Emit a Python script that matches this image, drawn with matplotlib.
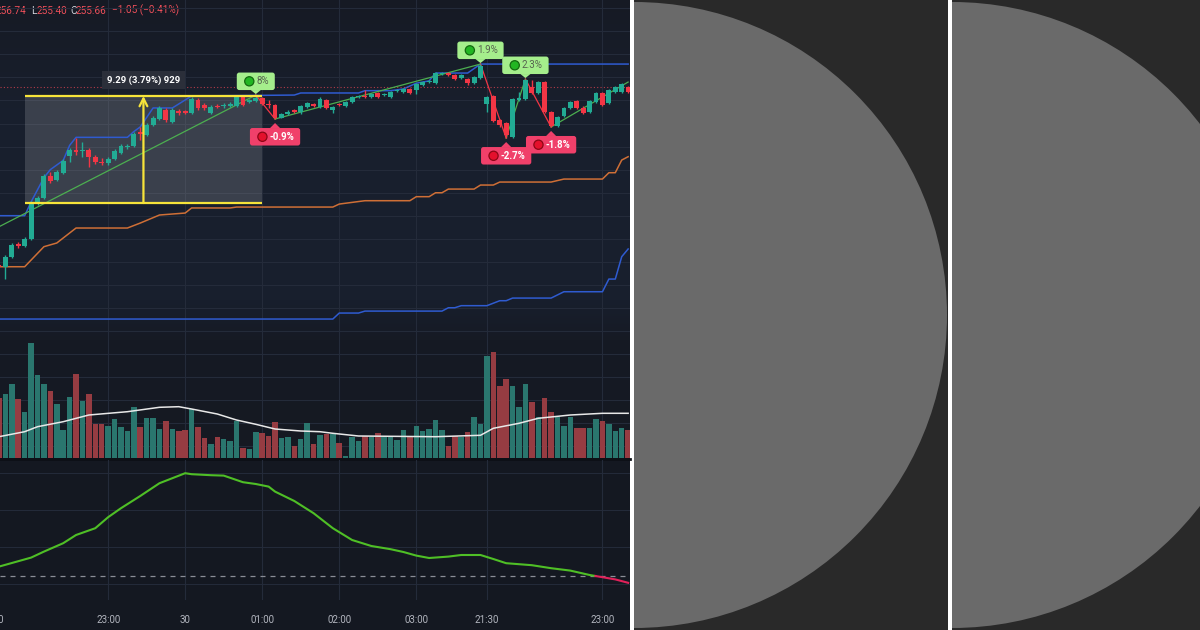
import numpy as np
import matplotlib
matplotlib.use("Agg")
import matplotlib.pyplot as plt
import matplotlib.patches as mpatches
import matplotlib.transforms as mtransforms

plt.rcParams["font.family"] = ["Roboto", "DejaVu Sans"]

# 5-minute bars, index 0..98
opens = [239.72, 239.54, 240.41, 241.54, 241.37, 241.97, 245.10, 245.53, 247.44, 247.10,
         247.70, 249.18, 249.70, 249.61, 249.70, 249.09, 248.66, 248.57, 248.92, 249.44,
         249.96, 250.05, 251.26, 251.00, 251.87, 252.39, 253.17, 252.13, 253.09, 253.09,
         252.91, 254.04, 253.61, 252.91, 253.52, 253.52, 253.52, 253.52, 254.30, 253.87,
         253.95, 254.21, 253.69, 253.61, 252.48, 252.82, 253.17, 253.00, 253.43, 253.69,
         253.43, 254.04, 253.17, 253.69, 253.52, 253.87, 254.30, 254.39, 254.30, 254.65,
         254.47, 254.30, 254.82, 254.73, 254.99, 254.91, 255.34, 255.60, 255.52, 256.30,
         256.38, 256.21, 255.95, 255.86, 255.52, 255.95, 253.69, 254.39, 252.30, 252.04,
         250.83, 254.04, 254.13, 255.17, 254.65, 255.60, 253.00, 251.78, 252.65, 253.35,
         253.95, 253.35, 253.00, 253.87, 254.65, 253.78, 254.73, 254.73, 255.17]
highs = [239.98, 240.59, 241.63, 241.71, 242.15, 245.27, 245.71, 247.62, 247.79, 247.96,
         248.92, 249.87, 250.74, 250.39, 249.87, 249.27, 249.01, 249.09, 249.79, 250.22,
         250.22, 251.26, 251.70, 252.04, 252.65, 253.52, 253.35, 253.35, 253.26, 253.17,
         254.30, 254.21, 253.78, 253.61, 253.69, 253.78, 253.87, 254.39, 254.39, 254.13,
         254.47, 254.30, 254.04, 253.69, 252.91, 253.17, 253.26, 253.61, 253.87, 253.78,
         254.30, 254.13, 253.52, 253.78, 253.95, 254.39, 254.47, 254.91, 254.65, 254.73,
         254.65, 254.82, 254.99, 255.08, 255.08, 255.52, 255.69, 255.78, 256.47, 256.47,
         256.47, 256.30, 256.30, 255.95, 256.12, 257.16, 254.39, 254.47, 252.39, 252.13,
         254.21, 254.73, 255.86, 255.78, 255.69, 255.69, 253.09, 252.65, 253.43, 253.95,
         254.04, 253.52, 254.04, 254.73, 254.73, 254.99, 255.26, 255.52, 255.26]
lows = [239.37, 238.50, 240.33, 241.19, 241.28, 241.89, 244.93, 245.45, 246.84, 247.01,
        247.62, 248.66, 249.27, 249.09, 248.22, 248.48, 248.40, 248.40, 248.83, 249.35,
        249.79, 249.96, 250.57, 250.92, 251.78, 252.30, 252.13, 252.04, 252.74, 252.82,
        252.82, 253.17, 253.17, 252.82, 253.35, 253.35, 253.43, 253.43, 253.52, 253.78,
        253.87, 253.61, 253.35, 252.39, 252.48, 252.74, 252.91, 252.82, 253.35, 253.43,
        253.35, 253.26, 252.91, 253.52, 253.43, 253.78, 254.21, 254.21, 254.21, 254.21,
        254.39, 254.21, 254.73, 254.65, 254.56, 254.56, 255.26, 255.52, 255.43, 256.21,
        256.12, 255.78, 255.86, 255.34, 255.43, 255.86, 253.00, 252.13, 251.70, 250.74,
        250.74, 253.95, 254.04, 254.56, 254.56, 252.91, 251.70, 251.70, 252.56, 253.26,
        253.26, 252.82, 252.91, 253.78, 253.52, 253.69, 254.65, 254.65, 254.65]
closes = [239.54, 240.41, 241.45, 241.37, 241.97, 245.10, 245.53, 247.44, 247.01, 247.79,
          248.75, 249.70, 249.53, 249.70, 249.09, 248.66, 248.57, 248.92, 249.61, 250.05,
          250.05, 251.09, 251.09, 251.87, 252.48, 253.35, 252.30, 253.17, 252.91, 252.91,
          254.13, 253.35, 253.35, 253.43, 253.43, 253.61, 253.69, 254.30, 253.61, 254.04,
          254.21, 253.69, 253.61, 252.48, 252.82, 253.00, 253.00, 253.52, 253.78, 253.52,
          254.13, 253.35, 253.43, 253.61, 253.87, 254.30, 254.39, 254.30, 254.56, 254.30,
          254.56, 254.73, 254.91, 254.99, 254.65, 255.43, 255.60, 255.69, 256.38, 256.38,
          256.21, 255.86, 256.21, 255.52, 256.04, 256.99, 254.30, 252.22, 251.87, 251.00,
          254.13, 254.21, 255.78, 254.65, 255.60, 253.00, 251.78, 252.56, 253.35, 253.87,
          253.35, 252.91, 253.95, 254.65, 253.61, 254.91, 255.17, 255.43, 254.73]
volumes = [597, 637, 740, 587, 460, 1153, 827, 740, 667, 537,
           280, 613, 837, 573, 637, 337, 337, 320, 390, 307,
           273, 507, 313, 403, 397, 290, 370, 290, 270, 280,
           493, 313, 203, 140, 213, 190, 170, 370, 97, 87,
           260, 253, 223, 360, 203, 207, 123, 190, 347, 140,
           227, 240, 240, 147, 20, 207, 170, 220, 207, 253,
           207, 207, 180, 280, 207, 320, 273, 293, 380, 280,
           120, 220, 207, 260, 407, 337, 1020, 1060, 720, 787,
           720, 513, 737, 557, 407, 603, 460, 413, 320, 413,
           300, 300, 300, 390, 370, 343, 270, 300, 280]

vol_ma_idx = [0, 4, 6, 10, 14, 20, 25, 28, 30, 34, 37, 40, 43, 47, 50, 52, 56, 68, 75, 77, 81, 84, 89, 94, 98]
vol_ma = [213, 263, 313, 363, 430, 463, 507, 513, 490, 440, 380, 337, 290, 270, 263, 247, 220, 213, 227, 297,
          347, 397, 430, 447, 447]

chan_hi_idx = [0, 4, 5, 7, 8, 10, 11, 12, 20, 21, 22, 24, 27, 30, 46, 47, 56, 57, 61, 63, 65, 67, 68, 73, 75, 98]
chan_hi = [244.0, 244.0, 245.2, 247.3, 248.0, 248.8, 250.1, 250.8, 250.8, 251.3, 251.7, 253.35, 253.35,
           254.39, 254.47, 254.65, 254.65, 254.85, 254.85, 255.0, 255.5, 255.7, 256.38, 256.38, 257.16, 257.16]
band_mid_idx = [0, 4, 7, 9, 12, 20, 22, 25, 29, 30, 36, 37, 52, 53, 57, 64, 65, 67, 68, 69, 70, 74, 75, 77,
                78, 86, 88, 94, 95, 96, 97, 98]
band_mid = [239.57, 239.57, 241.31, 241.63, 242.93, 242.93, 243.36, 244.06, 244.23, 244.67, 244.67, 244.75,
            244.75, 245.01, 245.30, 245.30, 245.65, 245.65, 245.99, 245.99, 246.31, 246.31, 246.66, 246.66,
            246.92, 246.92, 247.18, 247.18, 247.73, 247.73, 248.83, 249.12]
band_lo_idx = [0, 52, 53, 56, 57, 69, 70, 71, 72, 76, 78, 79, 80, 86, 88, 94, 95, 96, 97, 98]
band_lo = [235.03, 235.03, 235.55, 235.55, 235.72, 235.72, 236.01, 236.01, 236.19, 236.19, 236.62, 236.62,
           236.85, 236.85, 237.40, 237.40, 238.50, 238.50, 240.44, 241.11]

zz_idx = [0, 40, 43, 75, 79, 82, 86, 98]
zz_price = [243.04, 254.47, 252.39, 257.16, 250.74, 255.86, 251.70, 255.60]

piv_idx = [40, 43, 75, 79, 82, 86]
piv_label = ["8%", "-0.9%", "1.9%", "-2.7%", "2.3%", "-1.8%"]
piv_high = [True, False, True, False, True, False]

osc_idx = [0, 2, 5, 7, 10, 12, 15, 17, 19, 22, 25, 27, 29, 30, 33, 35, 38, 40, 42, 43,
           46, 49, 52, 55, 58, 61, 63, 65, 67, 70, 72, 75, 77, 79, 83, 86, 89, 92, 96, 98]
osc_val = [0.47, 0.65, 0.92, 1.22, 1.64, 2.05, 2.39, 2.94, 3.39, 4.0, 4.64, 4.89, 5.14, 5.09, 5.04, 5.02,
           4.69, 4.6, 4.47, 4.22, 3.75, 3.14, 2.39, 1.8, 1.5, 1.34, 1.2, 1.02, 0.9, 0.97, 1.05, 1.05,
           0.85, 0.64, 0.54, 0.39, 0.27, 0.05, -0.17, -0.34]

meas_k0, meas_k1 = 4, 41
meas_lo, meas_hi = 245.10, 254.39
meas_text = "9.29 (3.79%) 929"
last_price = 255.19

time_ticks = [-1.2, 17, 29, 41, 53, 65, 76, 94]
time_labels = ["22:50", "23:00", "30", "01:00", "02:00", "03:00", "21:30", "23:00"]

header = [("256.74", "r"), ("L", "w"), ("255.40", "r"), ("C", "w"), ("255.66", "r"), ("\u22121.05 (\u22120.41%)", "r")]

# colours
UP, DN = "#22ab94", "#f23645"
VUP, VDN = "#2a766e", "#963c42"
GRID = "#242b3a"
YEL = "#f7e43a"

W, H = 1200, 630
fig = plt.figure(figsize=(12, 6.3), dpi=100, facecolor="white")


def frac(x0, y0, x1, y1):
    return [x0 / W, 1 - y1 / H, (x1 - x0) / W, (y1 - y0) / H]


# background: chart backdrop and the two grey panels
ax_bg = fig.add_axes([0, 0, 1, 1], zorder=0)
stops_y = [0, 120, 300, 340, 458]
stops_c = [(22, 26, 36), (25, 32, 46), (24, 31, 45), (22, 26, 36), (21, 25, 34)]
yy = np.arange(458)
grad = np.stack([np.interp(yy, stops_y, [c[i] for c in stops_c]) for i in range(3)], axis=-1) / 255
ax_bg.imshow(grad[:, None, :], extent=(0, 630, 458, 0), aspect="auto", interpolation="bilinear")
ax_bg.add_patch(mpatches.Rectangle((0, 458), 630, 172, fc="#141821", ec="none"))
ax_bg.plot([0, 630], [459, 459], color="#0d1016", lw=2)
for x0, w in [(634, 314), (952, 248)]:
    panel = mpatches.Rectangle((x0, 0), w, H, fc="#292929", ec="none")
    ax_bg.add_patch(panel)
    circ = mpatches.Circle((x0, 315), 313, fc="#6a6a6a", ec="none")
    ax_bg.add_patch(circ)
    circ.set_clip_path(panel)
ax_bg.set_xlim(0, W)
ax_bg.set_ylim(H, 0)
ax_bg.axis("off")

hx = {0: 26, 1: 31, 2: 36.5, 3: 70, 4: 76, 5: 112}
for i, (s, c) in enumerate(header):
    ax_bg.text(hx[i], 10.5, s, ha="right" if i == 0 else "left", va="center", fontsize=7.2,
               color="#ee4f5a" if c == "r" else "#d1d4dc")

x_lo, x_hi = 0.156, 98.29
ax_v = fig.add_axes(frac(0, 0, 630, 458), zorder=1)
ax_p = fig.add_axes(frac(0, 0, 630, 458), zorder=2)
ax_o = fig.add_axes(frac(0, 460, 630, 600), zorder=2)
for a in (ax_v, ax_p, ax_o):
    a.set_facecolor("none")
    a.set_xlim(x_lo, x_hi)
    for s in a.spines.values():
        s.set_visible(False)
    a.set_xticks([])
    a.set_yticks([])
ax_p.set_ylim(222.97, 262.72)
ax_v.set_ylim(0, 4580)
ax_o.set_ylim(-1.2, 5.8)

# grid
gy = mtransforms.blended_transform_factory(ax_v.transAxes, ax_p.transData)
for p in np.arange(224, 263, 2):
    ax_v.plot([0, 1], [p, p], transform=gy, color=GRID, lw=0.8, zorder=0)
for k in time_ticks[1:]:
    ax_v.axvline(k, color=GRID, lw=0.8, zorder=0)
    ax_o.axvline(k, color=GRID, lw=0.8, zorder=0)
for v in [-0.4, 1.45, 3.3, 5.15]:
    ax_o.axhline(v, color=GRID, lw=0.7, zorder=0)

# volume
idx = np.arange(len(closes))
o, h, l, c = map(np.array, (opens, highs, lows, closes))
up = c >= o
ax_v.bar(idx, volumes, width=0.86, color=np.where(up, VUP, VDN), zorder=2)
ax_v.plot(vol_ma_idx, vol_ma, color="#e8e8e8", lw=1.1, zorder=3)

# measure tool (behind candles)
ax_p.fill_between([meas_k0, meas_k1], meas_lo, meas_hi, color="white", alpha=0.15, lw=0, zorder=1)

# bands
ax_p.plot(chan_hi_idx, chan_hi, color="#2f5bd0", lw=1.1, zorder=2)
ax_p.plot(band_mid_idx, band_mid, color="#cf6f36", lw=1.1, zorder=2)
ax_p.plot(band_lo_idx, band_lo, color="#2f5bd0", lw=1.1, zorder=2)
ax_p.axhline(last_price, color="#d9434f", lw=0.8, ls=(0, (1, 2)), alpha=0.8, zorder=2)

# zigzag legs
for i in range(len(zz_idx) - 1):
    rising = zz_price[i + 1] > zz_price[i]
    ax_p.plot(zz_idx[i:i + 2], zz_price[i:i + 2], color="#4caf50" if rising else "#f23645",
              lw=0.9, zorder=2.5)

# candles
col = np.where(up, UP, DN)
ax_p.vlines(idx, l, h, colors=col, lw=1.0, zorder=3)
ax_p.bar(idx, np.maximum(np.abs(c - o), 0.08), bottom=np.minimum(o, c), width=0.76, color=col, zorder=4)

# measure lines, arrow and label
km = (meas_k0 + meas_k1) / 2
ax_p.hlines([meas_lo, meas_hi], meas_k0, meas_k1, color=YEL, lw=1.6, zorder=5)
ax_p.annotate("", xy=(km, meas_hi), xytext=(km, meas_lo), zorder=5,
              arrowprops=dict(arrowstyle="->", color=YEL, lw=1.6, mutation_scale=14, shrinkA=0, shrinkB=0))
ax_p.annotate(meas_text, xy=(km, meas_hi), xytext=(0, 11.5), textcoords="offset points",
              ha="center", va="center", fontsize=6.8, fontweight="bold", color="white", zorder=6,
              bbox=dict(boxstyle="square,pad=0.5", fc="#2b2f3a", ec="none"))

# pivot labels
renderer = fig.canvas.get_renderer()
for k, txt, is_hi in zip(piv_idx, piv_label, piv_high):
    p = highs[k] if is_hi else lows[k]
    tr = mtransforms.Affine2D() + mtransforms.ScaledTranslation(k, p, ax_p.transData)
    box_c = "#a5ee8c" if is_hi else "#f0406a"
    t = ax_p.text(0, 0, txt, transform=tr, ha="left", va="center", fontsize=7, zorder=8,
                  color="#56624f" if is_hi else "white", fontweight="normal" if is_hi else "bold")
    tw = t.get_window_extent(renderer).width
    w, bh = 19.5 + tw + 6, 17.5
    left = -w / 2
    if is_hi:
        yb, tip = 5, 1
    else:
        yb, tip = -9 - bh, -4
    yc = yb + bh / 2
    t.set_position((left + 19.5, yc))
    ax_p.add_patch(mpatches.FancyBboxPatch((left, yb), w, bh, boxstyle="round,pad=0,rounding_size=2.5",
                                           fc=box_c, ec="none", transform=tr, zorder=7))
    base = yb if is_hi else yb + bh
    ax_p.add_patch(mpatches.Polygon([(-5, base), (5, base), (0, tip)], closed=True, fc=box_c, ec="none",
                                    transform=tr, zorder=7))
    ax_p.add_patch(mpatches.Circle((left + 12.5, yc), 4.6, transform=tr, zorder=8, lw=0.9,
                                   fc="#22b622" if is_hi else "#e4102c",
                                   ec="#13690f" if is_hi else "#8c0615"))

# oscillator
ox = np.array(osc_idx, float)
ov = np.array(osc_val)
ax_o.axhline(0, color="#8a8d96", lw=0.9, ls=(0, (4, 4)), zorder=1)
j = int(np.argmax(ov < 0))
xc = ox[j - 1] + ov[j - 1] / (ov[j - 1] - ov[j]) * (ox[j] - ox[j - 1])
ax_o.plot(np.r_[ox[:j], xc], np.r_[ov[:j], 0], color="#4fbf26", lw=1.5, zorder=2)
ax_o.plot(np.r_[xc, ox[j:]], np.r_[0, ov[j:]], color="#e0215a", lw=1.5, zorder=2)

tl = mtransforms.blended_transform_factory(ax_o.transData, ax_o.transAxes)
for k, s in zip(time_ticks, time_labels):
    ax_o.text(k, -20 / 140, s, transform=tl, ha="center", va="center", fontsize=7,
              color="#b2b5be", clip_on=False)

fig.savefig("out.png", dpi=100, facecolor="white")
